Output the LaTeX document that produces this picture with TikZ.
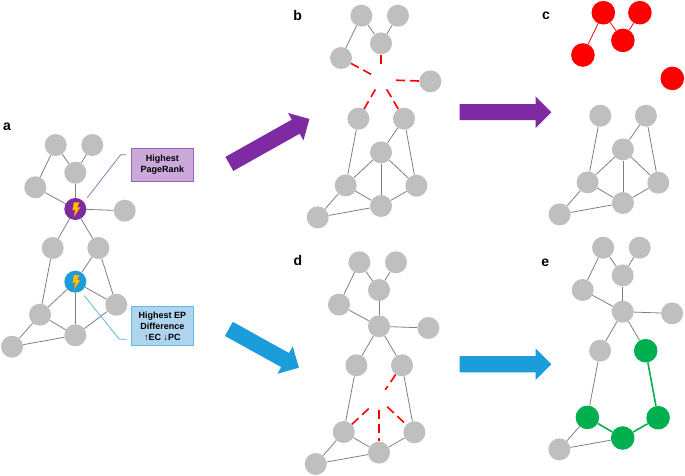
\documentclass[tikz,border=0pt]{standalone}
\usepackage{xcolor}
\usepackage{fontspec}
\setmainfont{Liberation Sans}
\usepackage{tikz}
\usetikzlibrary{shapes.arrows}
\definecolor{nodegray}{HTML}{BFBFBF}
\definecolor{edgegray}{HTML}{7F7F7F}
\definecolor{prpurple}{HTML}{7E2AA3}
\definecolor{epblue}{HTML}{1B9CDB}
\definecolor{pagebox}{HTML}{CBA9DB}
\definecolor{epbox}{HTML}{AED4EE}
\definecolor{cutgreen}{HTML}{00B050}
\definecolor{boltyellow}{HTML}{FFC000}
\tikzset{
	vertex/.style={circle,fill=nodegray,inner sep=0pt,minimum size=22pt},
	hidden vertex/.style={fill=none},
	red vertex/.style={fill=red,minimum size=23.6pt},
	green vertex/.style={fill=cutgreen,minimum size=23.6pt},
	edge/.style={draw=edgegray,line width=0.8pt},
	red edge/.style={draw=red,line width=0.8pt},
	green edge/.style={draw=cutgreen,line width=1.6pt},
	cut edge/.style={draw=red,line width=1.6pt,dash pattern=on 9pt off 5pt},
	callbox/.style={draw,line width=0.8pt,minimum width=62.7pt,align=center,font=\bfseries\fontsize{9}{11}\selectfont,inner sep=0pt},
	blockarrow/.style={single arrow,anchor=tail,inner xsep=0pt,inner ysep=7.85pt,minimum height=91.8pt,
		single arrow head extend=7.65pt},
	panel/.style={font=\bfseries\fontsize{14}{14}\selectfont,inner sep=0pt}
}
% the same graph is used in all panels
\newcommand{\vertexlist}{1/55.7/145,2/92.3/145,3/75.3/172.7,4/35.3/187.3,5/75.3/209,6/124.7/210.7,
	7/52.7/248,8/98.3/248,9/75.3/281.7,10/40/314.7,11/110.7/315,12/75.3/335.3,13/12/346.7}
\newcommand{\drawvertices}{\foreach \n/\x/\y in \vertexlist {\node [vertex,v\n/.try] (\n) at (\x,\y) {};}}
\newcommand{\boltat}[1]{\draw [shift={(#1)},fill=boltyellow,draw=orange,line width=0.3pt]
	(-1.3,-6.7) -- (4,-6.7) -- (2,-1.7) -- (5,-1.7) -- (-1.3,7.7) -- (0,1) -- (-2.7,1) -- cycle;}

\begin{document}
\begin{tikzpicture}[x=1pt,y=-1pt]
	\useasboundingbox (0,0) rectangle (685,476);

	% panel a, node 11 sits a little higher here
	\begin{scope}[name prefix=a-,v5/.style={fill=prpurple},v9/.style={fill=epblue},v11/.style={xshift=5.6pt,yshift=10.3pt}]
		\drawvertices
		\foreach \u/\v in {1/3,2/3,1/4,3/5,4/5,5/6,5/7,5/8,7/10,8/9,8/11,9/10,9/11,9/12,10/12,11/12,10/13,12/13}
			\draw [edge] (\u) -- (\v);
		\boltat{5.center}
		\boltat{9.center}
	\end{scope}
	\node [callbox,fill=pagebox,draw=prpurple!75,minimum height=32.6pt] (pagerank) at (162.3,165) {Highest\\PageRank};
	\node [callbox,fill=epbox,draw=epblue!70,minimum height=39pt] (epdiff) at (162.3,326.2) {Highest EP\\Difference\\↑EC ↓PC};
	\coordinate (pagerank end) at (87.3,197.7);
	\coordinate (pagerank knee) at (120.7,154.7);
	\coordinate (pagerank start) at (126,154.7);
	\coordinate (epdiff end) at (84.3,295.7);
	\coordinate (epdiff knee) at (119.3,339.3);
	\coordinate (epdiff start) at (126.7,339.3);
	\draw [draw=prpurple!75,line width=0.7pt] (pagerank start) -- (pagerank knee) -- (pagerank end);
	\draw [draw=epblue!80,line width=0.7pt] (epdiff start) -- (epdiff knee) -- (epdiff end);

	% panel b, high pagerank node is gone
	\begin{scope}[shift={(305.7,-129.3)},name prefix=b-,v5/.style={hidden vertex}]
		\drawvertices
		\foreach \u/\v in {1/3,2/3,1/4,7/10,8/9,8/11,9/10,9/11,9/12,10/12,11/12,10/13,12/13}
			\draw [edge] (\u) -- (\v);
		\foreach \u in {3,4,6,7,8}
			\draw [cut edge] (\u) -- (5);
	\end{scope}

	% panel c
	\begin{scope}[shift={(547.6,-132.3)},name prefix=c-,v5/.style={hidden vertex},
		v1/.style={red vertex},v2/.style={red vertex},v3/.style={red vertex},v4/.style={red vertex},v6/.style={red vertex}]
		\drawvertices
		\foreach \u/\v in {7/10,8/9,8/11,9/10,9/11,9/12,10/12,11/12,10/13,12/13}
			\draw [edge] (\u) -- (\v);
		\foreach \u/\v in {1/3,2/3,1/4}
			\draw [red edge] (\u) -- (\v);
	\end{scope}

	% panel d, high ep node is gone
	\begin{scope}[shift={(303.7,117.3)},name prefix=d-,v9/.style={hidden vertex}]
		\drawvertices
		\foreach \u/\v in {1/3,2/3,1/4,3/5,4/5,5/6,5/7,5/8,7/10,8/11,10/12,11/12,10/13,12/13}
			\draw [edge] (\u) -- (\v);
		\foreach \u in {8,10}
			\draw [cut edge] (\u) -- (9);
		\foreach \v in {11,12}
			\draw [cut edge] (9) -- (\v);
	\end{scope}

	% panel e
	\begin{scope}[shift={(547.4,102.7)},name prefix=e-,v9/.style={hidden vertex},
		v8/.style={green vertex},v10/.style={green vertex},v11/.style={green vertex},v12/.style={green vertex}]
		\drawvertices
		\foreach \u/\v in {1/3,2/3,1/4,3/5,4/5,5/6,5/7,5/8,7/10,10/13,12/13}
			\draw [edge] (\u) -- (\v);
		\foreach \u/\v in {8/11,10/12,11/12}
			\draw [green edge] (\u) -- (\v);
	\end{scope}

	\node [blockarrow,fill=prpurple,rotate=29.3] (arrow ab) at (229.2,164) {};
	\node [blockarrow,fill=epblue,rotate=-29,minimum height=80pt] (arrow ad) at (228.7,328.8) {};
	\node [blockarrow,fill=prpurple] (arrow bc) at (459.3,112.2) {};
	\node [blockarrow,fill=epblue] (arrow de) at (459.3,364.2) {};

	\node [panel] (label a) at (7,127) {a};
	\node [panel] (label b) at (297.7,15) {b};
	\node [panel] (label c) at (546,16) {c};
	\node [panel] (label d) at (298,260.7) {d};
	\node [panel] (label e) at (545.3,263) {e};
\end{tikzpicture}
\end{document}
